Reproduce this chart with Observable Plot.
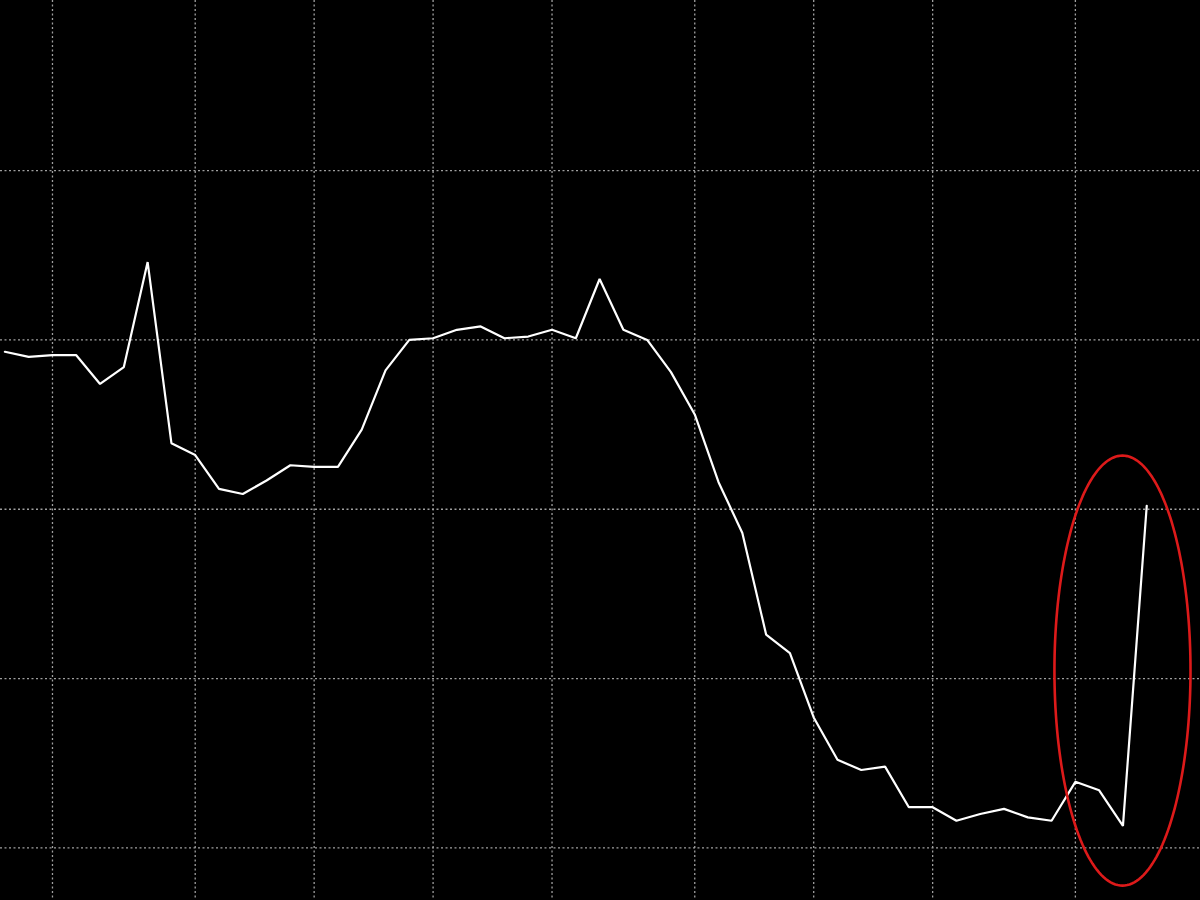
<!DOCTYPE html>
<html>
<head>
<meta charset="utf-8">
<script src="https://cdn.jsdelivr.net/npm/d3@7"></script>
<script src="https://cdn.jsdelivr.net/npm/@observablehq/plot@0.6"></script>
<style>
  html, body { margin: 0; padding: 0; background: #000; overflow: hidden; }
  #chart svg { display: block; }
</style>
</head>
<body>
<div id="chart"></div>
<script>
// Series values (one per period)
const values = [
  2.93, 2.90, 2.91, 2.91, 2.74, 2.84, 3.46, 2.39, 2.32, 2.12,
  2.09, 2.17, 2.26, 2.25, 2.25, 2.47, 2.82, 3.00, 3.01, 3.06,
  3.08, 3.01, 3.02, 3.06, 3.01, 3.36, 3.06, 3.00, 2.81, 2.56,
  2.16, 1.86, 1.26, 1.15, 0.77, 0.52, 0.46, 0.48, 0.24, 0.24,
  0.16, 0.20, 0.23, 0.18, 0.16, 0.39, 0.34, 0.13, 2.02
];
// Period index of each point
const periods = values.map((_, i) => i);
// Vertical grid positions (period index)
const gridXTicks = [2, 8, 13, 18, 23, 29, 34, 39, 45];
// Horizontal grid values
const gridYTicks = [0, 1, 2, 3, 4];

const data = periods.map((p, i) => ({x: p, y: values[i]}));

// Highlight ellipse around the last points (in data units)
const ellipseCenter = {x: 46.98, y: 1.047};
const ellipseRadius = {x: 2.86, y: 1.27};
const ellipse = d3.range(0, 361, 2).map(a => {
  const t = a * Math.PI / 180;
  return {x: ellipseCenter.x + ellipseRadius.x * Math.cos(t), y: ellipseCenter.y + ellipseRadius.y * Math.sin(t)};
});

const chart = Plot.plot({
  width: 1200,
  height: 900,
  margin: 0,
  style: {background: "#000", color: "#fff", overflow: "visible"},
  x: {domain: [-0.185, 50.26], axis: null},
  y: {domain: [-0.311, 5.005], axis: null},
  marks: [
    Plot.ruleX(gridXTicks, {stroke: "#a0a0a0", strokeWidth: 1.3, strokeDasharray: "2,2.5", strokeOpacity: 1}),
    Plot.ruleY(gridYTicks, {stroke: "#a0a0a0", strokeWidth: 1.3, strokeDasharray: "2,2.5", strokeOpacity: 1}),
    Plot.line(data, {x: "x", y: "y", stroke: "#ffffff", strokeWidth: 2.2, strokeLinejoin: "miter", curve: "linear"}),
    Plot.line(ellipse, {x: "x", y: "y", stroke: "#dd1a1a", strokeWidth: 2.6, curve: "linear"})
  ]
});
document.getElementById("chart").appendChild(chart);
</script>
</body>
</html>
